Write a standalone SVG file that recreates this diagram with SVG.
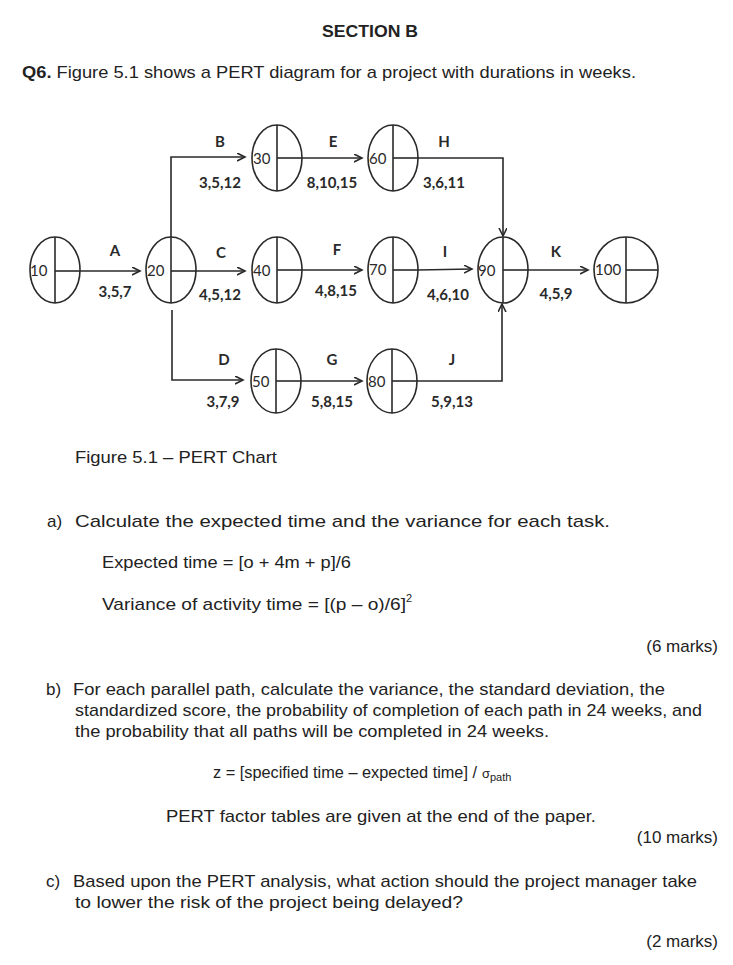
<svg xmlns="http://www.w3.org/2000/svg" width="733" height="965" viewBox="0 0 733 965">
<style>
.bg{fill:#fff}
.node ellipse{fill:none;stroke:#2a2a2a;stroke-width:1.6}
.node line{stroke:#2a2a2a;stroke-width:1.6}
.num{font-family:Lato,"Open Sans","DejaVu Sans",sans-serif;font-size:15px;fill:#2a2a2a}
.conn path{fill:none;stroke:#2a2a2a;stroke-width:1.6}
.lbl{font-family:Lato,"Open Sans","DejaVu Sans",sans-serif;font-size:15px;font-weight:700;fill:#2a2a2a;text-anchor:middle}
.t{font-family:"Liberation Sans",Arial,sans-serif;font-size:17px;fill:#222}
.b{font-weight:700}
.end{text-anchor:end}
</style>
<defs>
<marker id="ah" markerWidth="10" markerHeight="10" refX="8" refY="4" orient="auto" markerUnits="userSpaceOnUse">
<path d="M0,0 L8,4 L0,8" fill="none" stroke="#2a2a2a" stroke-width="1.6"/>
</marker>
</defs>
<rect class="bg" width="733" height="965"/>

<text class="t b" x="322" y="37" textLength="96" lengthAdjust="spacingAndGlyphs">SECTION B</text>
<text class="t" x="22" y="78" textLength="614" lengthAdjust="spacingAndGlyphs"><tspan class="b">Q6.</tspan> Figure 5.1 shows a PERT diagram for a project with durations in weeks.</text>

<g class="conn">
<path d="M80,271 H140" marker-end="url(#ah)"/>
<path d="M171,237 V157 H245" marker-end="url(#ah)"/>
<path d="M196,271 H245" marker-end="url(#ah)"/>
<path d="M172,310 V380 H243" marker-end="url(#ah)"/>
<path d="M302,158 H362" marker-end="url(#ah)"/>
<path d="M418,158 H503 V236" marker-end="url(#ah)"/>
<path d="M302,270 H362" marker-end="url(#ah)"/>
<path d="M418,270 L472,269" marker-end="url(#ah)"/>
<path d="M301,381 H362" marker-end="url(#ah)"/>
<path d="M417,381 H502 V304" marker-end="url(#ah)"/>
<path d="M528,270 H588" marker-end="url(#ah)"/>
</g>

<g id="n10" class="node"><ellipse cx="55" cy="270" rx="25" ry="33"/><line x1="55" y1="237" x2="55" y2="303"/><line x1="55" y1="271" x2="80" y2="271"/><text class="num" x="30" y="276">10</text></g>
<g id="n20" class="node"><ellipse cx="171" cy="270" rx="25" ry="33"/><line x1="171" y1="237" x2="171" y2="303"/><line x1="171" y1="271" x2="196" y2="271"/><text class="num" x="147" y="276">20</text></g>
<g id="n30" class="node"><ellipse cx="277" cy="158" rx="25" ry="33"/><line x1="277" y1="125" x2="277" y2="191"/><line x1="277" y1="158" x2="302" y2="158"/><text class="num" x="253" y="164">30</text></g>
<g id="n40" class="node"><ellipse cx="277" cy="270" rx="25" ry="33"/><line x1="277" y1="237" x2="277" y2="303"/><line x1="277" y1="270" x2="302" y2="270"/><text class="num" x="253" y="276">40</text></g>
<g id="n50" class="node"><ellipse cx="276" cy="381" rx="25" ry="32"/><line x1="276" y1="349" x2="276" y2="413"/><line x1="276" y1="381" x2="301" y2="381"/><text class="num" x="252" y="387">50</text></g>
<g id="n60" class="node"><ellipse cx="393" cy="158" rx="25" ry="33"/><line x1="393" y1="125" x2="393" y2="191"/><line x1="393" y1="158" x2="418" y2="158"/><text class="num" x="369" y="164">60</text></g>
<g id="n70" class="node"><ellipse cx="393" cy="270" rx="25" ry="33"/><line x1="393" y1="237" x2="393" y2="303"/><line x1="393" y1="270" x2="418" y2="270"/><text class="num" x="369" y="275">70</text></g>
<g id="n80" class="node"><ellipse cx="392" cy="381" rx="25" ry="32"/><line x1="392" y1="349" x2="392" y2="413"/><line x1="392" y1="381" x2="417" y2="381"/><text class="num" x="368" y="387">80</text></g>
<g id="n90" class="node"><ellipse cx="503" cy="270" rx="25" ry="33"/><line x1="503" y1="237" x2="503" y2="303"/><line x1="503" y1="270" x2="528" y2="270"/><text class="num" x="478" y="276">90</text></g>
<g id="n100" class="node"><ellipse cx="626" cy="270" rx="32" ry="33"/><line x1="626" y1="237" x2="626" y2="303"/><line x1="626" y1="270" x2="658" y2="270"/><text class="num" x="595" y="275">100</text></g>

<g id="labels">
<text class="lbl" x="115" y="256">A</text><text class="lbl" x="115" y="297">3,5,7</text>
<text class="lbl" x="220" y="147">B</text><text class="lbl" x="220" y="188">3,5,12</text>
<text class="lbl" x="221" y="258">C</text><text class="lbl" x="220" y="300">4,5,12</text>
<text class="lbl" x="224" y="365">D</text><text class="lbl" x="223" y="407">3,7,9</text>
<text class="lbl" x="333" y="147">E</text><text class="lbl" x="332" y="188">8,10,15</text>
<text class="lbl" x="337" y="255">F</text><text class="lbl" x="336" y="296">4,8,15</text>
<text class="lbl" x="332" y="365">G</text><text class="lbl" x="332" y="407">5,8,15</text>
<text class="lbl" x="444" y="147">H</text><text class="lbl" x="444" y="188">3,6,11</text>
<text class="lbl" x="445" y="257">I</text><text class="lbl" x="448" y="300">4,6,10</text>
<text class="lbl" x="452" y="365">J</text><text class="lbl" x="452" y="407">5,9,13</text>
<text class="lbl" x="556" y="257">K</text><text class="lbl" x="556" y="299">4,5,9</text>
</g>

<text class="t" x="75" y="463" textLength="202" lengthAdjust="spacingAndGlyphs">Figure 5.1 – PERT Chart</text>

<text class="t" x="47" y="527">a)</text>
<text class="t" x="75" y="527" textLength="535" lengthAdjust="spacingAndGlyphs">Calculate the expected time and the variance for each task.</text>
<text class="t" x="102" y="568" textLength="249" lengthAdjust="spacingAndGlyphs">Expected time = [o + 4m + p]/6</text>
<text class="t" x="102" y="610" textLength="304" lengthAdjust="spacingAndGlyphs">Variance of activity time = [(p – o)/6]</text>
<text class="t" x="406" y="602" style="font-size:11px">2</text>
<text class="t end" x="718" y="652">(6 marks)</text>

<text class="t" x="46" y="695">b)</text>
<text class="t" x="73" y="695" textLength="592" lengthAdjust="spacingAndGlyphs">For each parallel path, calculate the variance, the standard deviation, the</text>
<text class="t" x="75" y="716" textLength="627" lengthAdjust="spacingAndGlyphs">standardized score, the probability of completion of each path in 24 weeks, and</text>
<text class="t" x="75" y="737" textLength="474" lengthAdjust="spacingAndGlyphs">the probability that all paths will be completed in 24 weeks.</text>
<text class="t" x="213" y="778" style="font-size:16px" textLength="264" lengthAdjust="spacingAndGlyphs">z = [specified time – expected time] /</text>
<text class="t" x="482" y="778" style="font-size:13px">σ</text>
<text class="t" x="490" y="781" style="font-size:11px">path</text>
<text class="t" x="166" y="822" textLength="430" lengthAdjust="spacingAndGlyphs">PERT factor tables are given at the end of the paper.</text>
<text class="t end" x="718" y="843">(10 marks)</text>

<text class="t" x="46" y="887">c)</text>
<text class="t" x="73" y="887" textLength="624" lengthAdjust="spacingAndGlyphs">Based upon the PERT analysis, what action should the project manager take</text>
<text class="t" x="75" y="908" textLength="388" lengthAdjust="spacingAndGlyphs">to lower the risk of the project being delayed?</text>
<text class="t end" x="718" y="947">(2 marks)</text>
</svg>
